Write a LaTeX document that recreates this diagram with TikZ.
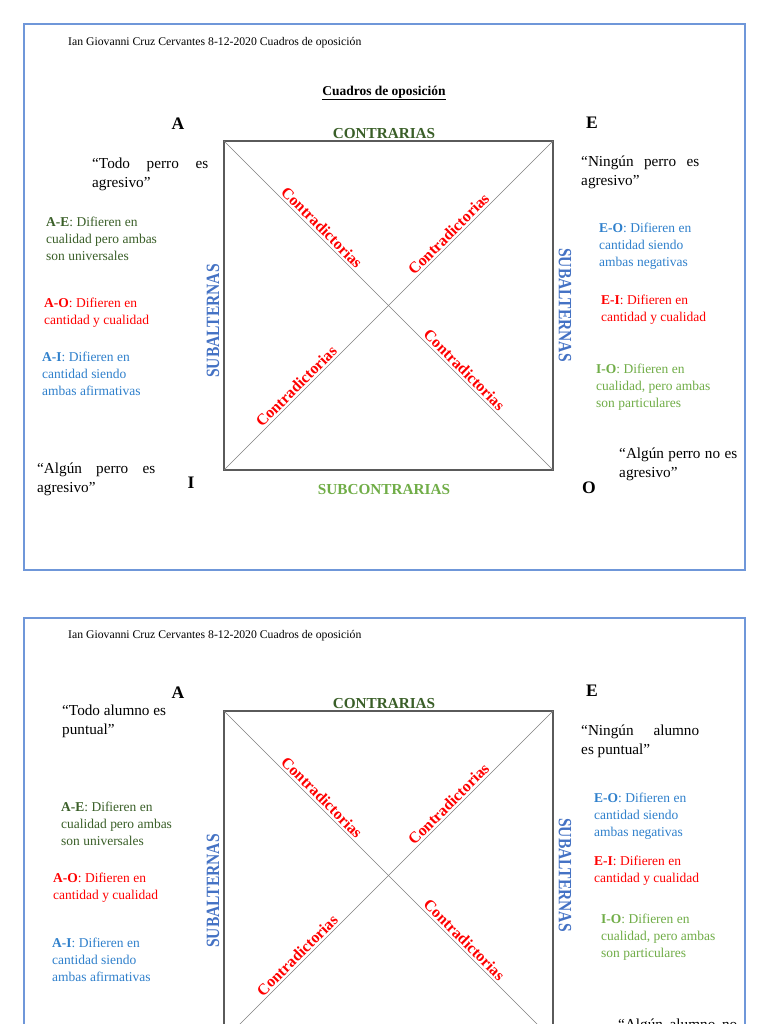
\documentclass[tikz,border=0pt]{standalone}
\usepackage{fontspec}
\setmainfont{Liberation Serif}
\usepackage{xcolor}
\usepackage{tikz}
\usetikzlibrary{positioning}

\definecolor{framblue}{HTML}{6F97D9}
\definecolor{subblue}{HTML}{4472C4}
\definecolor{noteblue}{HTML}{2F80CC}
\definecolor{darkgrn}{HTML}{3A5F28}
\definecolor{litegrn}{HTML}{70AD47}
\definecolor{sqgray}{HTML}{5A5A5A}

% one justified line of a quote
\newcommand{\spread}[2]{\makebox[#1][s]{#2}}

\begin{document}
\begin{tikzpicture}[
  x=0.03cm, y=-0.03cm,
  % page header and title
  hdr/.style={anchor=base west, inner sep=0pt, font=\fontsize{10}{12}\selectfont},
  ttl/.style={anchor=base, inner sep=0pt, font=\fontsize{11.5}{14}\selectfont\bfseries},
  % A / E / I / O letters
  corner/.style={anchor=base, inner sep=0pt, font=\fontsize{15}{15}\selectfont\bfseries},
  % relation names on the sides
  rel/.style={anchor=base, inner sep=0pt, font=\fontsize{13}{13}\selectfont\bfseries},
  subalt/.style={inner sep=0pt, text=subblue, font=\fontsize{16}{16}\selectfont\bfseries},
  contra/.style={sloped, above, inner sep=2pt, text=red,
                 font=\fontsize{13.5}{13.5}\selectfont\bfseries},
  % propositions and notes (anchored at the last line)
  quote/.style={anchor=base west, align=left, inner sep=0pt,
                font=\fontsize{13}{16.2}\selectfont},
  note/.style={anchor=base west, align=left, inner sep=0pt,
               font=\fontsize{11.5}{14.5}\selectfont},
  side/.style={draw=sqgray, line width=0.9pt},
  diag/.style={draw=gray, line width=0.4pt},
  page/.style={draw=framblue, line width=0.9pt}
]
\useasboundingbox (0,0) rectangle (768,1024);
\fill[white] (0,0) rectangle (768,1024);
\clip (0,0) rectangle (768,1024);

% ── Page 1 ────────────────────────────────────────────────────────────────
\draw[page] (24,24) rectangle (745,570);
\draw[framblue, line width=1.8pt] (24,570) -- (745,570);

\node[hdr] (head1) at (68,45) {Ian Giovanni Cruz Cervantes 8-12-2020 Cuadros de oposición};
\node[ttl] (title1) at (384,95) {\underline{Cuadros de oposición}};

\coordinate (sqA1) at (224,141);
\coordinate (sqE1) at (553,141);
\coordinate (sqI1) at (224,470);
\coordinate (sqO1) at (553,470);

\node[corner] (A1) at (178,129) {A};
\node[corner] (E1) at (592,128) {E};
\node[corner] (I1) at (191,488) {I};
\node[corner] (O1) at (589,493) {O};

\draw[side] (sqA1) -- (sqE1) -- (sqO1) -- (sqI1) -- cycle;
\draw[diag] (sqA1) -- node[contra, pos=0.28] {Contradictorias}
                      node[contra, pos=0.713] {Contradictorias} (sqO1);
\draw[diag] (sqI1) -- node[contra, pos=0.237] {Contradictorias}
                      node[contra, pos=0.70] {Contradictorias} (sqE1);

\node[rel, text=darkgrn] (contr1) at (384,138) {CONTRARIAS};
\node[rel, text=litegrn] (subc1)  at (384,494) {SUBCONTRARIAS};
\node[subalt, rotate=90]  (subL1) at (213,321) {\scalebox{0.83}[1]{SUBALTERNAS}};
\node[subalt, rotate=-90] (subR1) at (565,305) {\scalebox{0.83}[1]{SUBALTERNAS}};

\node[quote] (qA1) at (92,187)  {\spread{99pt}{“Todo perro es}\\agresivo”};
\node[quote] (qE1) at (581,185) {\spread{100.7pt}{“Ningún perro es}\\agresivo”};
\node[quote] (qI1) at (37,492)  {\spread{100.7pt}{“Algún perro es}\\agresivo”};
\node[quote] (qO1) at (619,477) {\spread{100.7pt}{“Algún perro no es}\\agresivo”};

\node[note, text=darkgrn]  (nAE1) at (46,260)  {\textbf{A-E}: Difieren en\\cualidad pero ambas\\son universales};
\node[note, text=red]      (nAO1) at (44,324)  {\textbf{A-O}: Difieren en\\cantidad y cualidad};
\node[note, text=noteblue] (nAI1) at (42,395)  {\textbf{A-I}: Difieren en\\cantidad siendo\\ambas afirmativas};
\node[note, text=noteblue] (nEO1) at (599,266) {\textbf{E-O}: Difieren en\\cantidad siendo\\ambas negativas};
\node[note, text=red]      (nEI1) at (601,321) {\textbf{E-I}: Difieren en\\cantidad y cualidad};
\node[note, text=litegrn]  (nIO1) at (596,407) {\textbf{I-O}: Difieren en\\cualidad, pero ambas\\son particulares};

% ── Page 2 ────────────────────────────────────────────────────────────────
\draw[page] (24,618) rectangle (745,1100);

\node[hdr] (head2) at (68,638) {Ian Giovanni Cruz Cervantes 8-12-2020 Cuadros de oposición};

\coordinate (sqA2) at (224,711);
\coordinate (sqE2) at (553,711);
\coordinate (sqI2) at (224,1040);
\coordinate (sqO2) at (553,1040);

\node[corner] (A2) at (178,698) {A};
\node[corner] (E2) at (592,696) {E};

\draw[side] (sqA2) -- (sqE2) -- (sqO2) -- (sqI2) -- cycle;
\draw[diag] (sqA2) -- node[contra, pos=0.28] {Contradictorias}
                      node[contra, pos=0.713] {Contradictorias} (sqO2);
\draw[diag] (sqI2) -- node[contra, pos=0.24] {Contradictorias}
                      node[contra, pos=0.70] {Contradictorias} (sqE2);

\node[rel, text=darkgrn] (contr2) at (384,708) {CONTRARIAS};
\node[subalt, rotate=90]  (subL2) at (213,891) {\scalebox{0.83}[1]{SUBALTERNAS}};
\node[subalt, rotate=-90] (subR2) at (565,875) {\scalebox{0.83}[1]{SUBALTERNAS}};

\node[quote] (qA2) at (62,734)   {“Todo alumno es\\puntual”};
\node[quote] (qE2) at (581,754)  {\spread{100.7pt}{“Ningún alumno}\\es puntual”};
\node[quote] (qO2) at (618,1029) {\spread{101.6pt}{“Algún alumno no}};

\node[note, text=darkgrn]  (nAE2) at (61,845)  {\textbf{A-E}: Difieren en\\cualidad pero ambas\\son universales};
\node[note, text=red]      (nAO2) at (53,899)  {\textbf{A-O}: Difieren en\\cantidad y cualidad};
\node[note, text=noteblue] (nAI2) at (52,981)  {\textbf{A-I}: Difieren en\\cantidad siendo\\ambas afirmativas};
\node[note, text=noteblue] (nEO2) at (594,836) {\textbf{E-O}: Difieren en\\cantidad siendo\\ambas negativas};
\node[note, text=red]      (nEI2) at (594,882) {\textbf{E-I}: Difieren en\\cantidad y cualidad};
\node[note, text=litegrn]  (nIO2) at (601,957) {\textbf{I-O}: Difieren en\\cualidad, pero ambas\\son particulares};

\end{tikzpicture}
\end{document}
